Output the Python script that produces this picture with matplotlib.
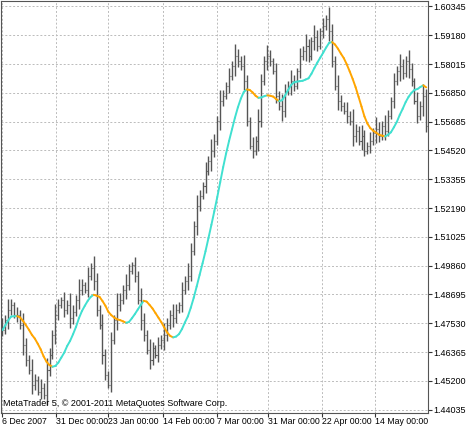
import matplotlib
matplotlib.use("Agg")
import matplotlib.pyplot as plt
import numpy as np

plt.rcParams['font.family'] = ['Liberation Sans', 'DejaVu Sans']

closes = [1.4725,1.4765,1.4806,1.4826,1.4785, 1.4785,1.4745,1.4664,1.4604,1.4564,
 1.4503,1.4523,1.4475,1.4491,1.4463, 1.4564,1.4624,1.4705,1.4785,1.4826,
 1.4846,1.4805,1.4826,1.4773,1.4797, 1.4846,1.4886,1.4906,1.4886,1.4946,
 1.4975,1.4926,1.4805,1.4745,1.4624, 1.4543,1.4503,1.4684,1.4765,1.4826,
 1.4846,1.4886,1.4906,1.4966,1.4987, 1.4946,1.4846,1.4765,1.4705,1.4644,
 1.4604,1.4652,1.4624,1.4664,1.4684, 1.4705,1.4745,1.4785,1.4773,1.4805,
 1.4826,1.4886,1.4926,1.4946,1.5047, 1.5148,1.5228,1.5269,1.5309,1.5370,
 1.5410,1.5450,1.5490,1.5571,1.5652, 1.5672,1.5712,1.5752,1.5793,1.5833,
 1.5813,1.5793,1.5732,1.5571,1.5470, 1.5450,1.5490,1.5571,1.5732,1.5813,
 1.5833,1.5813,1.5772,1.5672,1.5632, 1.5612,1.5692,1.5712,1.5732,1.5712,
 1.5772,1.5833,1.5853,1.5873,1.5833, 1.5893,1.5913,1.5873,1.5934,1.5954,
 1.5982,1.5934,1.5813,1.5712,1.5652, 1.5632,1.5612,1.5591,1.5571,1.5510,
 1.5531,1.5490,1.5510,1.5450,1.5470, 1.5490,1.5523,1.5539,1.5510,1.5551,
 1.5531,1.5591,1.5652,1.5732,1.5772, 1.5793,1.5765,1.5813,1.5781,1.5732,
 1.5652,1.5591,1.5632,1.5672,1.5551]
wicks = [0.0030,0.0020,0.0045,0.0025,0.0015,0.0035,0.0020,0.0050]
ytick_vals = [1.60345,1.59180,1.58015,1.56850,1.55685,1.54520,1.53355,1.52190,
              1.51025,1.49860,1.48695,1.47530,1.46365,1.45200,1.44035]
xtick_pos = [0, 18.1, 35.8, 54.7, 73, 90.3, 108.6, 126.6]
xtick_labels = ["6 Dec 2007","31 Dec 00:00","23 Jan 00:00","14 Feb 00:00",
                "7 Mar 00:00","31 Mar 00:00","22 Apr 00:00","14 May 00:00"]
ma_period = 12

c = np.array(closes)
n = len(c)
o = np.concatenate([[c[0] + 0.002], c[:-1]])
w = np.array([wicks[i % len(wicks)] for i in range(n)])
hi = np.maximum(o, c) + w
lo = np.minimum(o, c) - w * 0.8
ma = np.array([c[max(0, i - ma_period + 1):i + 1].mean() for i in range(n)])

fig = plt.figure(figsize=(4.74, 4.26), dpi=100)
ax = fig.add_axes([0.002, 0.0305, 0.901, 0.966])
x = np.arange(n)
ax.vlines(x, lo, hi, color="#555555", lw=1.0)
ax.hlines(o, x - 0.35, x, color="#555555", lw=0.8)
ax.hlines(c, x, x + 0.35, color="#555555", lw=0.8)
for i in range(1, n):
    col = "#40E0D0" if ma[i] >= ma[i - 1] else "#FFA500"
    ax.plot([i - 1, i], [ma[i - 1], ma[i]], color=col, lw=1.4, solid_capstyle="round")

ax.set_xlim(-0.5, 144.6)
ax.set_ylim(1.4390, 1.60547)
ax.set_yticks(ytick_vals)
ax.set_yticklabels([f"{v:.5f}" for v in ytick_vals], fontsize=6.5)
ax.yaxis.tick_right()
ax.set_xticks(xtick_pos)
ax.set_xticklabels(xtick_labels, fontsize=6.3, ha="left")
ax.tick_params(axis="y", length=3, pad=1, color="#333333")
ax.tick_params(axis="x", length=3, pad=0, color="#333333")
ax.grid(True, ls=(0, (2, 2)), color="#bbbbbb", lw=0.7)
ax.set_axisbelow(True)
for s in ax.spines.values():
    s.set_color("#555555")
ax.text(0.005, 0.012, "MetaTrader 5, © 2001-2011 MetaQuotes Software Corp.",
        transform=ax.transAxes, fontsize=6.5, ha="left", va="bottom")
fig.savefig("out.png", dpi=100)
